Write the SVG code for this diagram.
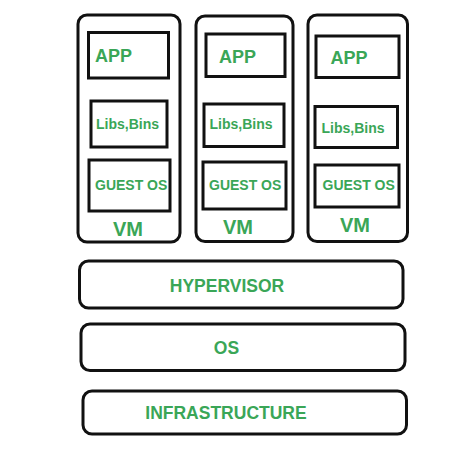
<svg xmlns="http://www.w3.org/2000/svg" width="474" height="449" viewBox="0 0 474 449">
<style>
.vm{fill:#fff;stroke:#111;stroke-width:3}
.box{fill:#fff;stroke:#111;stroke-width:3}
.bar{fill:#fff;stroke:#111;stroke-width:3}
text{font-family:"Liberation Sans",Arial,sans-serif;font-weight:bold;fill:#3aa657}
.t17{font-size:18px}
.t14{font-size:14px}
.t20{font-size:20px}
.tb{font-size:17.5px;text-anchor:middle}
</style>
<rect width="474" height="449" fill="#fff"/>
<g id="connectors"></g>
<g id="vm1">
<rect class="vm" x="78" y="15" width="102" height="227" rx="9"/>
<rect class="box" x="88.5" y="32.5" width="80" height="45.5"/>
<text class="t17" x="95" y="62">APP</text>
<rect class="box" x="91" y="101" width="76" height="46"/>
<text class="t14" x="96" y="128.5">Libs,Bins</text>
<rect class="box" x="89" y="160" width="81" height="51"/>
<text class="t14" x="95" y="190">GUEST OS</text>
<text class="t20" x="113" y="236">VM</text>
</g>
<g id="vm2">
<rect class="vm" x="196" y="16" width="97" height="225.5" rx="9"/>
<rect class="box" x="206" y="34" width="79" height="42.5"/>
<text class="t17" x="219" y="63">APP</text>
<rect class="box" x="204" y="104" width="80" height="42.5"/>
<text class="t14" x="209.5" y="129">Libs,Bins</text>
<rect class="box" x="203" y="162" width="83" height="47"/>
<text class="t14" x="209" y="190">GUEST OS</text>
<text class="t20" x="223" y="233.5">VM</text>
</g>
<g id="vm3">
<rect class="vm" x="308" y="15" width="99.5" height="226.5" rx="9"/>
<rect class="box" x="316" y="36" width="83" height="41.5"/>
<text class="t17" x="330.5" y="63.5">APP</text>
<rect class="box" x="315" y="106.5" width="82.5" height="41"/>
<text class="t14" x="321.5" y="132.5">Libs,Bins</text>
<rect class="box" x="315" y="165" width="84" height="42"/>
<text class="t14" x="322.5" y="190">GUEST OS</text>
<text class="t20" x="340" y="232">VM</text>
</g>
<g id="hypervisor">
<rect class="bar" x="79.5" y="261" width="323.5" height="47" rx="9"/>
<text class="tb" x="227" y="292">HYPERVISOR</text>
</g>
<g id="os">
<rect class="bar" x="81" y="324" width="324" height="46.5" rx="9"/>
<text class="tb" x="226.5" y="353.5">OS</text>
</g>
<g id="infrastructure">
<rect class="bar" x="83" y="391" width="323.5" height="43" rx="9"/>
<text class="tb" x="226" y="418.5">INFRASTRUCTURE</text>
</g>
</svg>
